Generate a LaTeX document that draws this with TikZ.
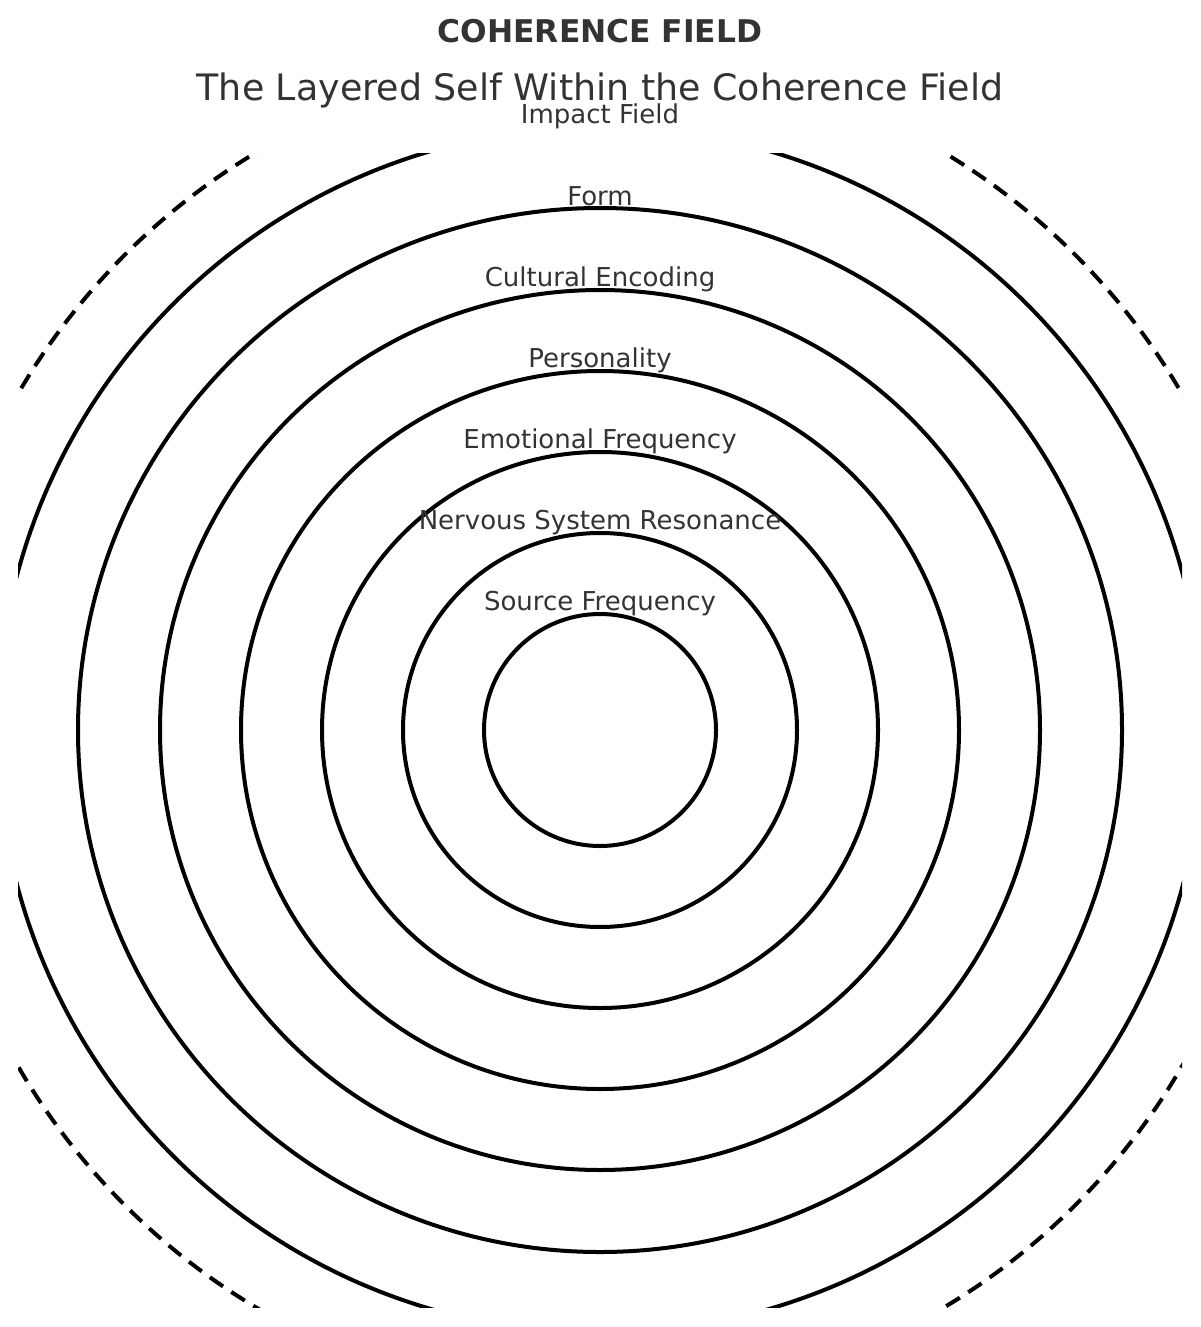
\documentclass[tikz,border=0pt]{standalone}
\usepackage{fontspec}
\setmainfont{DejaVu Sans}
\definecolor{txt}{HTML}{333333}
\begin{document}
\begin{tikzpicture}[x=1pt,y=-1pt,
  ring/.style={line width=4pt,black},
  lbl/.style={text=txt,font=\fontsize{26}{26}\selectfont,anchor=base},
]
\useasboundingbox (0,0) rectangle (1200,1327);
\coordinate (c) at (600,730);
\begin{scope}
\clip (18,153) rectangle (1182,1307);
\foreach \r in {116,197,278,359,440,522,603} {\draw[ring] (c) circle[radius=\r];}
\draw[ring,dash pattern=on 16pt off 10pt] (c) circle[radius=672];
\end{scope}
\node[text=txt,font=\bfseries\fontsize{31.3}{31}\selectfont,anchor=base] (t) at (600,43) {COHERENCE FIELD};
\node[text=txt,font=\fontsize{36.4}{36}\selectfont,anchor=base] (st) at (600,101) {The Layered Self Within the Coherence Field};
\node[lbl] (l7) at (600,124) {Impact Field};
\node[lbl] (l6) at (600,205) {Form};
\node[lbl] (l5) at (600,286) {Cultural Encoding};
\node[lbl] (l4) at (600,367) {Personality};
\node[lbl] (l3) at (600,448) {Emotional Frequency};
\node[lbl] (l2) at (600,529) {Nervous System Resonance};
\node[lbl] (l1) at (600,610) {Source Frequency};
\end{tikzpicture}
\end{document}
